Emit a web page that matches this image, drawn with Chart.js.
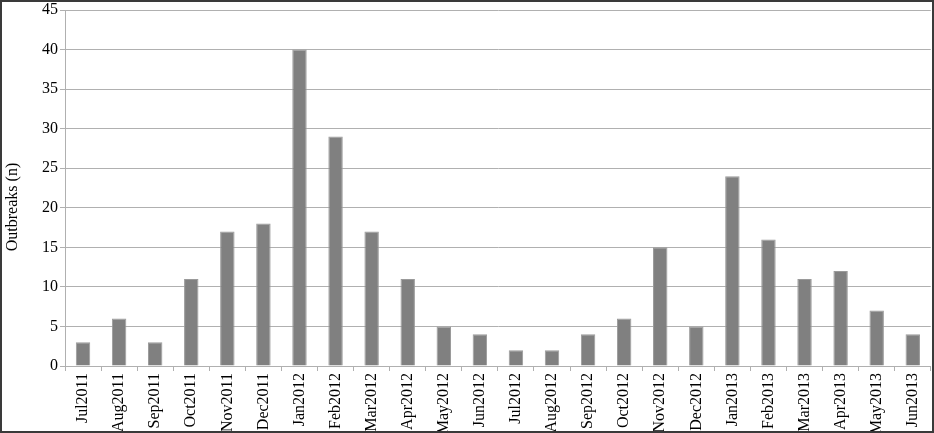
<!DOCTYPE html>
<html lang="en">
<head>
    <meta charset="UTF-8">
    <title>Outbreaks by Month</title>
    <script src="https://cdn.jsdelivr.net/npm/chart.js"></script>
    <style>
        body {
            margin: 0;
            padding: 0;
            background: #ffffff;
        }
        #wrap {
            position: relative;
            width: 934px;
            height: 433px;
        }
    </style>
</head>
<body>
    <div id="wrap">
        <canvas id="outbreakChart" width="934" height="433"></canvas>
    </div>

    <script>
        const months = ['Jul2011', 'Aug2011', 'Sep2011', 'Oct2011', 'Nov2011', 'Dec2011',
            'Jan2012', 'Feb2012', 'Mar2012', 'Apr2012', 'May2012', 'Jun2012',
            'Jul2012', 'Aug2012', 'Sep2012', 'Oct2012', 'Nov2012', 'Dec2012',
            'Jan2013', 'Feb2013', 'Mar2013', 'Apr2013', 'May2013', 'Jun2013'];
        const outbreaks = [3, 6, 3, 11, 17, 18, 40, 29, 17, 11, 5, 4, 2, 2, 4, 6, 15, 5, 24, 16, 11, 12, 7, 4];
        const yTicks = [0, 5, 10, 15, 20, 25, 30, 35, 40, 45];
        const yTitle = 'Outbreaks (n)';

        const fontFamily = '"Liberation Serif", "Times New Roman", serif';
        const font = { family: fontFamily, size: 16 };

        // outer frame and the y title, which sits a little below the axis middle
        const frame = {
            id: 'frame',
            afterDraw(chart) {
                const ctx = chart.ctx;
                ctx.save();
                ctx.strokeStyle = '#3a3a3a';
                ctx.lineWidth = 2;
                ctx.strokeRect(1, 1, chart.width - 2, chart.height - 2);

                ctx.translate(13, 207);
                ctx.rotate(-Math.PI / 2);
                ctx.fillStyle = '#000';
                ctx.font = '16px ' + fontFamily;
                ctx.textAlign = 'center';
                ctx.textBaseline = 'middle';
                ctx.fillText(yTitle, 0, 0);
                ctx.restore();
            }
        };

        new Chart(document.getElementById('outbreakChart').getContext('2d'), {
            type: 'bar',
            data: {
                labels: months,
                datasets: [{
                    label: 'Outbreaks',
                    data: outbreaks,
                    backgroundColor: '#808080',
                    borderColor: '#9a9a9a',
                    borderWidth: 1,
                    barPercentage: 0.4,
                    categoryPercentage: 1
                }]
            },
            options: {
                responsive: false,
                animation: false,
                devicePixelRatio: 1,
                layout: { padding: { top: 9, right: 2, left: 0, bottom: 0 } },
                plugins: {
                    legend: { display: false },
                    tooltip: { enabled: false }
                },
                scales: {
                    x: {
                        offset: true,
                        grid: {
                            offset: true,
                            drawOnChartArea: false,
                            drawTicks: true,
                            tickLength: 5,
                            color: '#b0b0b0'
                        },
                        border: { color: '#b0b0b0' },
                        ticks: {
                            color: '#000',
                            font: font,
                            minRotation: 90,
                            maxRotation: 90,
                            autoSkip: false,
                            padding: 2
                        },
                        afterFit(scale) { scale.height = 67; }
                    },
                    y: {
                        min: 0,
                        max: 45,
                        afterBuildTicks(scale) {
                            scale.ticks = yTicks.map(v => ({ value: v }));
                        },
                        grid: {
                            color: '#b0b0b0',
                            tickLength: 5
                        },
                        border: { color: '#b0b0b0' },
                        ticks: {
                            color: '#000',
                            font: { family: fontFamily, size: 16, lineHeight: 1 },
                            padding: 2
                        },
                        afterFit(scale) { scale.width = 65; }
                    }
                }
            },
            plugins: [frame]
        });
    </script>
</body>
</html>
